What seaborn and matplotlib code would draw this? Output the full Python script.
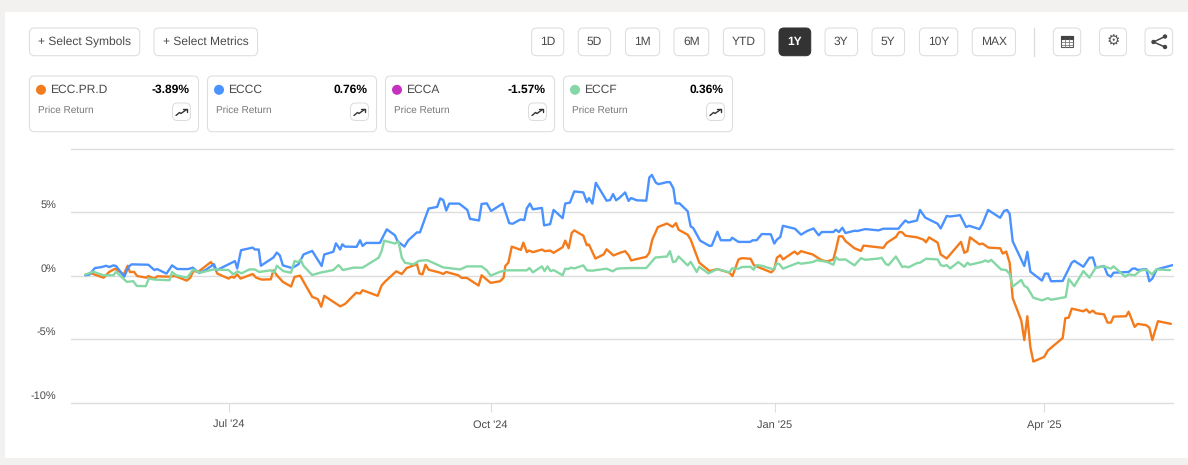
import pandas as pd
import matplotlib
matplotlib.use("Agg")
import matplotlib.pyplot as plt
from matplotlib.patches import FancyBboxPatch, Circle, Rectangle
import seaborn as sns

# trading session number and price return in %
ecc_x = [0.1,1.5,2.3,4.3,5.6,7.0,9.0,9.9,10.4,11.4,12.1,14.3,14.7,16.0,16.8,19.3,20.9,23.6,24.4,25.1,26.3,29.2,29.9,30.7,33.3,34.0,34.6,35.3,36.1,38.9,39.7,41.0,43.1,43.7,44.5,45.9,47.8,48.6,49.9,52.7,54.0,54.8,55.5,
    59.2,60.3,62.9,63.8,64.4,67.9,68.8,69.6,72.2,73.5,74.6,77.0,77.6,78.3,79.0,79.7,82.4,83.1,83.8,86.6,87.4,88.6,91.3,92.0,94.1,96.3,97.1,97.5,98.2,99.0,101.1,101.7,102.5,103.0,103.9,106.0,106.7,107.9,108.7,110.8,111.4,112.2,112.9,113.5,115.6,116.4,116.9,118.4,120.3,121.0,122.6,
    124.1,125.3,126.1,126.7,127.6,130.2,130.9,131.6,132.9,135.0,136.3,137.1,137.7,139.8,140.5,142.5,144.9,146.7,149.5,150.2,151.6,152.4,154.4,155.2,159.2,159.9,160.5,161.3,161.9,164.6,165.3,166.1,168.8,170.9,172.2,173.6,174.2,174.9,175.7,176.4,178.5,180.0,180.6,185.2,186.0,188.1,188.8,
    189.1,189.6,190.3,193.0,194.5,195.1,195.8,197.8,198.5,199.9,203.2,204.0,204.7,205.3,207.5,208.2,209.6,212.3,212.9,213.7,214.5,215.2,217.2,217.9,218.6,219.3,220.0,222.5,223.4,226.8,227.4,228.2,228.9,231.6,232.3,233.0,233.8,234.5,236.4,237.2,238.0,238.6,241.5,242.1,243.5,244.2,246.2,246.9,247.6,248.9,251.9]
ecc_y = [.08,.18,.08,-.16,.29,.55,.10,.78,.29,.29,-.03,-.16,-.03,-.23,-.05,-.08,-.03,-.39,-.18,.36,.31,1.07,.76,.16,-.23,-.08,-.16,.10,-.23,.13,-.16,-.31,-.29,.42,.03,-.49,-.86,-.10,0,-1.67,-1.85,-2.45,-1.59,
    -2.42,-2.24,-1.35,-1.41,-1.15,-1.59,-.78,-.47,.34,.13,.60,.91,.16,.10,.86,.47,.23,.13,.29,.03,-.18,-.18,-.78,.03,-.57,-.44,-.16,.76,1.02,2.29,2.03,2.60,1.85,1.98,1.85,2.06,1.93,1.98,1.80,2.24,2.76,2.16,3.36,3.57,3.15,2.40,2.45,1.35,1.67,2.08,1.59,
    1.80,1.93,1.61,1.20,1.28,1.48,1.80,2.84,3.83,4.11,3.85,4.14,3.62,3.23,2.84,1.02,.36,.52,.23,-.03,1.28,1.38,1.33,.81,.26,.49,1.41,1.61,1.28,1.90,1.69,1.93,1.67,1.22,1.12,1.28,2.06,3.10,3.10,2.73,2.16,1.95,2.37,2.19,2.58,3.05,3.41,
    3.44,3.41,3.15,3.02,2.84,2.63,3.02,2.60,1.67,1.35,2.66,1.80,1.93,3.02,2.47,2.53,2.21,2.16,1.74,1.90,1.02,-1.77,-3.54,-5.08,-3.20,-5.63,-6.77,-6.41,-5.89,-4.92,-3.36,-3.31,-2.60,-2.81,-2.66,-2.92,-2.76,-2.97,-3.05,-3.70,-3.70,-3.23,-3.20,-2.84,-4.04,-3.80,-3.91,-4.09,-5.08,-3.59,-3.80]

eccc_x = [0.1,1.0,2.3,3.9,4.9,5.6,6.6,7.2,9.1,10.1,10.8,14.7,16.1,16.7,18.9,20.2,21.4,24.0,25.0,26.5,28.2,29.9,30.5,34.8,35.3,36.2,38.9,39.4,40.3,40.8,43.7,44.5,45.2,45.9,48.0,49.5,50.7,52.7,54.9,55.5,57.6,58.2,
    59.2,59.7,60.3,63.0,63.8,64.4,65.2,68.4,70.0,71.9,72.5,74.1,75.0,77.0,77.7,79.7,81.7,82.4,83.1,83.8,84.5,86.8,88.2,88.7,89.3,91.4,92.0,93.2,94.2,96.9,98.4,99.2,101.0,101.9,102.5,103.2,103.9,106.0,106.5,107.9,108.7,110.8,111.4,112.5,113.5,115.6,116.4,116.9,117.7,118.5,121.0,121.8,122.5,123.2,
    124.1,125.3,126.1,126.7,128.0,130.2,130.9,131.5,132.4,133.0,135.0,135.7,136.5,137.0,137.9,139.8,140.5,141.1,142.7,144.9,145.4,146.7,147.5,149.7,150.1,151.6,154.3,154.9,155.8,157.0,159.1,159.9,160.5,161.3,161.9,164.7,166.1,167.5,169.0,170.2,170.9,173.6,174.2,174.9,175.7,176.4,178.5,179.2,181.0,184.1,185.2,188.7,
    189.1,190.3,191.0,193.0,193.7,194.9,197.8,198.5,199.9,200.7,203.0,204.4,205.1,207.5,208.2,209.5,212.3,213.2,213.9,214.5,215.2,217.9,218.6,219.3,222.0,222.7,223.4,224.1,226.8,228.9,229.5,231.6,233.0,233.8,234.5,236.4,237.2,238.0,238.6,242.1,243.0,243.6,244.2,246.2,246.9,247.6,248.6,252.3]
eccc_y = [.03,.08,.60,.68,.78,.68,.81,.76,-.08,.70,.89,.86,.44,.52,.16,.81,.52,.52,.63,.21,.49,.91,.42,1.15,.57,2.01,2.21,2.06,2.06,.78,1.43,1.82,1.59,.81,.60,.89,1.67,1.95,.76,1.67,1.88,2.55,
    2.06,2.47,2.29,2.27,2.79,2.34,2.58,2.58,3.65,3.18,2.71,2.29,2.79,3.41,3.41,5.29,5.42,6.09,5.96,5.13,5.68,5.68,5.31,5.18,4.48,4.35,5.65,5.70,5.10,5.68,4.14,4.09,4.43,4.38,5.31,5.68,5.23,5.34,3.96,4.06,5.18,4.53,5.68,5.76,6.64,6.56,5.81,6.12,5.68,7.32,5.91,5.96,6.43,5.94,
    6.17,6.56,5.89,6.12,5.94,5.91,7.73,7.94,7.34,7.21,7.37,7.37,6.88,5.70,5.70,5.08,3.88,3.75,2.76,2.34,2.37,3.46,2.79,2.79,2.99,2.66,2.66,2.79,2.79,3.28,3.26,2.53,2.84,3.05,3.93,3.70,3.23,3.52,3.72,3.18,3.44,3.44,3.62,3.44,3.78,3.36,3.54,3.52,3.67,3.57,3.70,3.70,
    3.88,4.35,4.19,4.35,5.18,4.58,4.09,3.72,4.71,4.66,4.77,3.83,3.93,3.67,4.09,5.18,4.56,5.10,5.18,4.87,2.71,.76,1.88,.31,-.39,.16,.16,-.44,-.42,1.02,1.17,.70,1.41,1.43,.63,.76,.08,-.08,.23,.29,.55,.57,.44,.52,-.44,-.23,.49,.83]

eccf_x = [0.1,1.9,4.3,6.6,7.2,9.7,11.2,12.0,14.1,14.8,16.2,19.6,20.2,21.1,23.7,25.1,26.7,29.8,33.3,34.4,35.4,36.3,38.1,39.4,40.4,43.1,43.9,44.5,46.0,47.8,48.6,49.5,50.0,50.7,52.7,54.5,57.6,58.8,
    59.2,59.8,62.3,64.4,68.1,68.8,69.4,71.9,72.7,73.5,74.2,76.2,77.5,79.4,83.1,87.0,88.6,92.0,93.2,94.1,96.3,97.8,102.5,103.1,103.9,106.0,106.6,107.3,108.0,108.7,110.8,111.4,112.1,112.7,113.5,115.6,116.4,117.6,121.0,122.4,123.4,
    124.1,126.5,130.2,132.3,135.0,135.7,136.4,137.0,137.7,139.8,140.5,141.9,142.5,144.6,146.7,149.5,150.1,151.6,152.4,154.4,155.1,155.8,157.0,159.7,160.5,161.1,161.9,165.5,166.1,168.8,169.8,172.1,173.6,174.2,174.9,176.4,178.5,180.0,181.0,184.1,184.8,185.8,186.4,188.1,
    189.1,189.6,190.3,191.0,193.0,193.7,195.1,197.8,198.5,199.2,199.9,200.7,202.6,204.0,204.7,205.3,208.2,208.8,209.6,210.2,212.5,213.7,214.5,215.2,217.2,217.9,218.6,220.0,222.0,223.4,224.1,227.5,228.2,229.5,231.6,233.0,234.5,236.4,238.0,238.6,241.3,242.1,243.5,244.8,246.2,247.5,248.5,251.7]
eccf_y = [.08,.31,.03,.03,.31,-.49,-.44,-.81,-.83,-.23,-.31,-.36,.29,.03,-.16,.49,.23,.49,.44,.10,.34,.18,.49,.49,.29,.42,.23,.78,.36,.23,1.15,1.07,1.28,.76,.05,.23,.44,.83,
    .70,.44,.63,.63,1.41,1.93,2.76,2.53,2.71,1.41,1.02,.89,1.17,1.22,.65,.49,.73,.73,.42,0,.31,.42,.42,.60,.26,.73,.36,.73,.36,.44,.03,.55,.52,.63,.57,.81,.42,.39,.55,.34,.55,
    .57,.60,.60,1.43,1.51,1.93,1.07,1.12,1.51,.81,1.09,.29,.70,.18,.52,.26,.57,.55,.68,.70,.47,.83,.78,.49,.96,.91,.55,1.02,.94,1.07,1.22,1.09,.86,1.46,1.25,1.28,.81,1.38,1.25,1.35,1.41,.91,.83,1.51,
    .96,.68,.73,.65,.99,1.02,1.33,1.28,.83,.76,.83,.57,1.07,.70,1.02,.86,1.09,1.20,1.09,1.25,.49,.44,.13,-.86,-.34,-.81,-.94,-1.74,-1.95,-1.77,-1.90,-1.69,-.26,-.83,.36,-.16,.65,.73,.55,.73,-.08,.10,.03,.39,.49,.10,.49,.44]

symbols = ["ECC.PR.D", "ECCC", "ECCA", "ECCF"]
returns = ["-3.89%", "0.76%", "-1.57%", "0.36%"]
colors = ["#F47B1C", "#4A92FF", "#C532C0", "#85D8A5"]

y_grid = [-10, -5, 0, 5, 10]
y_labels = ["-10%", "-5%", "0%", "5%"]
x_tick_pos = [33.3, 94.1, 160.0, 222.5]
x_tick_labels = ["Jul '24", "Oct '24", "Jan '25", "Apr '25"]

range_labels = ["1D", "5D", "1M", "6M", "YTD", "1Y", "3Y", "5Y", "10Y", "MAX"]
range_edges = [(531.6, 563.7), (578.3, 610.5), (625.5, 659.6), (674, 708.7), (723.4, 764.6),
               (779, 810.7), (825, 857.6), (872, 904.5), (919.5, 957.7), (972.3, 1015.5)]

FONT = "Liberation Sans"
EDGE = "#DDDDDD"
TEXT = "#4A4A4A"


def px(size):
    return size * 72 / 100


def box(ax, x0, y0, x1, y1, fc="white", ec=EDGE, r=5):
    ax.add_patch(FancyBboxPatch((x0, y0), x1 - x0, y1 - y0, boxstyle=f"round,pad=0,rounding_size={r}",
                                fc=fc, ec=ec, lw=0.75))


def trend_icon(ax, cx, cy):
    ax.plot([cx - 5.5, cx - 2, cx - 0.5, cx + 5], [cy + 3, cy, cy + 1, cy - 3], color="#333333", lw=1.0)
    ax.plot([cx + 1.5, cx + 5, cx + 5], [cy - 3.5, cy - 3.5, cy], color="#333333", lw=1.0)


sns.set_theme(style="white")
plt.rcParams["font.family"] = [FONT, "DejaVu Sans"]
plt.rcParams["text.hinting"] = "no_hinting"
plt.rcParams["text.hinting_factor"] = 1

fig = plt.figure(figsize=(11.88, 4.65), dpi=100, facecolor="#F2F1EF")

# page furniture in pixel coordinates
ui = fig.add_axes([0, 0, 1, 1], zorder=0)
ui.set_xlim(0, 1188)
ui.set_ylim(465, 0)
ui.axis("off")
ui.add_patch(Rectangle((5, 12), 1183, 446, fc="white", ec="none"))

box(ui, 29.5, 28, 139.7, 55.7)
ui.text(84.6, 42, "+ Select Symbols", ha="center", va="center", fontsize=px(12), color=TEXT)
box(ui, 154, 28, 257.6, 55.7)
ui.text(205.8, 42, "+ Select Metrics", ha="center", va="center", fontsize=px(12), color=TEXT)

for label, (x0, x1) in zip(range_labels, range_edges):
    active = label == "1Y"
    box(ui, x0, 28, x1, 55.7, fc="#333333" if active else "white", ec="#333333" if active else EDGE)
    ui.text((x0 + x1) / 2, 42, label, ha="center", va="center", fontsize=px(12),
            color="white" if active else TEXT, fontweight="bold" if active else "normal")

ui.plot([1034, 1034], [28, 55.7], color=EDGE, lw=1)

# table, settings and share buttons
for x0, x1 in [(1053.3, 1080.7), (1099.5, 1126.5), (1145, 1172.6)]:
    box(ui, x0, 28, x1, 55.7)
ui.add_patch(Rectangle((1061, 36), 12, 11.5, fc="white", ec="#555555", lw=0.8))
ui.add_patch(Rectangle((1061, 36), 12, 3.5, fc="#444444", ec="#444444", lw=0.8))
for gx in [1065, 1069]:
    ui.plot([gx, gx], [39.5, 47.5], color="#777777", lw=0.6)
for gy in [42.2, 44.9]:
    ui.plot([1061, 1073], [gy, gy], color="#777777", lw=0.6)
ui.text(1113, 42, "\u2699", ha="center", va="center", fontsize=px(15), color="#555555", family="DejaVu Sans")
ui.plot([1165, 1153.5, 1165], [36.5, 42, 47], color="#444444", lw=1.1)
for sx, sy in [(1165, 36.5), (1153.5, 42), (1165, 47)]:
    ui.add_patch(Circle((sx, sy), 2.2, fc="#444444", ec="none"))

# symbol cards
for i, (sym, ret, col) in enumerate(zip(symbols, returns, colors)):
    x0 = 29.5 + i * 178
    box(ui, x0, 76, x0 + 169, 131.7)
    ui.add_patch(Circle((x0 + 11.5, 89.8), 5, fc=col, ec="none"))
    ui.text(x0 + 21, 89.8, sym, va="center", fontsize=px(12.3), color=TEXT)
    ui.text(x0 + 160, 89.8, ret, va="center", ha="right", fontsize=px(12), color="black", fontweight="bold")
    ui.text(x0 + 9, 110.5, "Price Return", va="center", fontsize=px(10.5), color="#777777")
    box(ui, x0 + 143, 103, x0 + 161, 120.5)
    trend_icon(ui, x0 + 152, 112.5)

# chart
series = [("ECC.PR.D", ecc_x, ecc_y), ("ECCC", eccc_x, eccc_y), ("ECCF", eccf_x, eccf_y)]
df = pd.concat([pd.DataFrame({"session": x, "ret": y, "symbol": name}) for name, x, y in series])

ax = fig.add_axes([71 / 1188, 1 - 402.5 / 465, 1101.6 / 1188, 253.7 / 465], zorder=1)
ax.patch.set_alpha(0)
sns.lineplot(data=df, x="session", y="ret", hue="symbol", palette=dict(zip(symbols, colors)),
             estimator=None, sort=False, linewidth=1.7, legend=False, ax=ax)
for line in ax.get_lines():
    line.set_solid_joinstyle("round")

ax.set_xlim(-3.25, 252.3)
ax.set_ylim(-10, 10)
ax.set_xlabel("")
ax.set_ylabel("")
sns.despine(ax=ax, left=True, top=True, right=True, bottom=True)

ax.set_yticks(y_grid)
ax.set_yticklabels([])
ax.tick_params(axis="y", length=0)
ax.grid(True, axis="y", color=EDGE, lw=1)
ax.grid(False, axis="x")
ax.set_axisbelow(True)
for gridline in ax.get_ygridlines():
    gridline.set_clip_on(False)
for v, label in zip(y_grid, y_labels):
    ax.annotate(label, xy=(0, v), xycoords=ax.get_yaxis_transform(), xytext=(-15 * 0.72, 6.7 * 0.72),
                textcoords="offset points", ha="right", va="center", fontsize=px(11), color=TEXT)

ax.set_xticks(x_tick_pos)
ax.set_xticklabels(x_tick_labels, fontsize=px(11), color=TEXT)
ax.tick_params(axis="x", bottom=True, length=6.8, width=0.8, color=EDGE, pad=5.5)

fig.savefig("out.png", dpi=100, facecolor=fig.get_facecolor())
plt.close(fig)
